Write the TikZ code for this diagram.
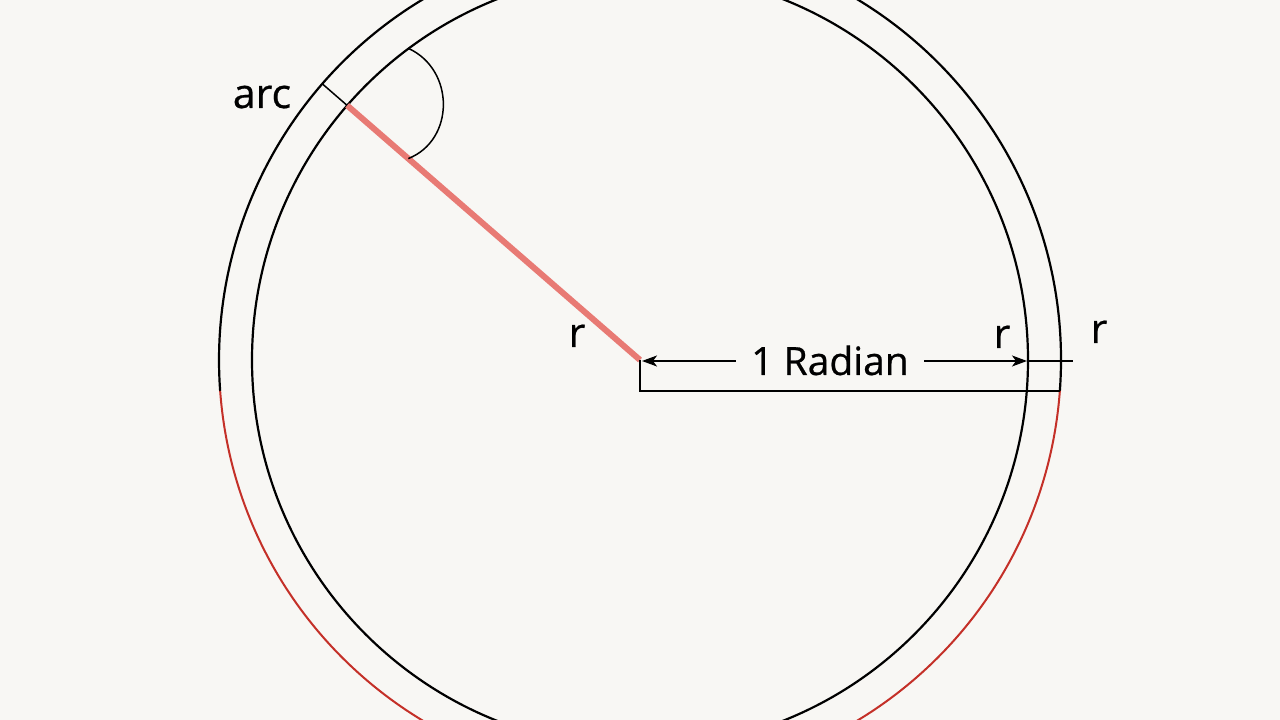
\documentclass[tikz,border=0pt]{standalone}
\usepackage{fontspec}
\setmainfont{Open Sans}
\newfontface\lblfont{Open Sans}[FakeBold=0.6]
\usetikzlibrary{arrows.meta}
\definecolor{bg}{RGB}{248,247,244}
\definecolor{salmon}{RGB}{232,122,116}
\definecolor{arcred}{RGB}{196,48,40}
\begin{document}
\begin{tikzpicture}[x=1pt,y=1pt,
  circ/.style={draw=black, line width=2.2pt},
  redarc/.style={draw=arcred, line width=2pt},
  thinline/.style={draw=black, line width=1.5pt},
  radline/.style={draw=salmon, line width=6pt},
  lbl/.style={anchor=base, inner sep=0pt, font=\lblfont\fontsize{41}{50}\selectfont},
  arr/.style={thinline, -{Stealth[length=15pt,width=11pt,inset=4pt]}}]
\fill[bg] (0,0) rectangle (1280,720);
\useasboundingbox (0,0) rectangle (1280,720);
\coordinate (O) at (640,360);
% circles
\draw[circ] (O) circle[radius=388];
\draw[circ] (O) ++(-4.2:421) arc[start angle=-4.2, end angle=184.2, radius=421];
\draw[redarc] (O) ++(184.2:421) arc[start angle=184.2, end angle=355.8, radius=421];
% radius
\path (O) ++(139:388) coordinate (A);
\path (O) ++(139:421) coordinate (B);
\draw[thinline] (A) -- (B);
\draw[radline] (O) -- (A);
% angle mark
\path (O) ++(126.6:388) coordinate (C1);
\path (O) ++(139:307) coordinate (C2);
\draw[thinline] (C1) .. controls (455,650) and (455,580) .. (C2);
% bracket lines
\path (O) ++(-4.2:421) coordinate (Pb);
\draw[thinline] (O) -- (O |- Pb) -- (Pb);
% labels
\node[lbl] (arc) at (262,612) {arc};
\node[lbl, inner xsep=15pt, font=\lblfont\fontsize{39}{48}\selectfont] (rad) at (830,345) {1 Radian};
\node[lbl] (r1) at (577,373) {r};
\node[lbl] (r2) at (1002,372) {r};
\node[lbl] (r3) at (1099,377) {r};
% arrows
\coordinate (tipL) at (642,359);
\coordinate (tipR) at (1027,359);
\coordinate (endR) at (1073,359);
\draw[arr] (tipL -| rad.west) -- (tipL);
\draw[arr] (tipR -| rad.east) -- (tipR);
\draw[thinline] (tipR) -- (endR);
\end{tikzpicture}
\end{document}
